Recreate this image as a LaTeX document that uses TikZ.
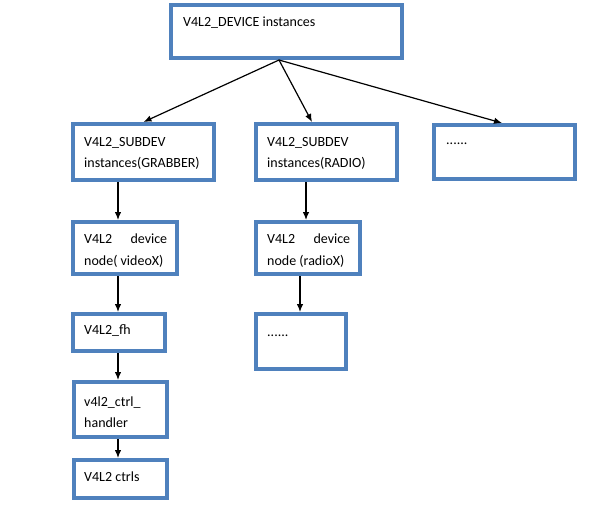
\documentclass[tikz,border=0pt]{standalone}
\usepackage{fontspec}
\setmainfont{Carlito}
\usetikzlibrary{arrows.meta,calc}
\definecolor{boxblue}{RGB}{79,129,189}
\begin{document}
\begin{tikzpicture}[x=1pt,y=-1pt,
  box/.style={draw=boxblue,line width=4pt,fill=white,rectangle,inner sep=0pt,anchor=north west},
  txt/.style={anchor=base west,inner sep=0pt,font=\fontsize{14}{21}\selectfont},
  link/.style={line width=1.2pt,-{Latex[length=8pt,width=6.5pt]}}]
\useasboundingbox (0,0) rectangle (593,509);
% boxes (outer extents)
\node[box,minimum width=231pt,minimum height=53pt] (top) at (169,3) {};
\node[box,minimum width=141pt,minimum height=56pt] (sub1) at (71,122) {};
\node[box,minimum width=141pt,minimum height=56pt] (sub2) at (254,122) {};
\node[box,minimum width=141pt,minimum height=54pt] (sub3) at (432,123) {};
\node[box,minimum width=104pt,minimum height=52pt] (dev1) at (71,220) {};
\node[box,minimum width=104pt,minimum height=52pt] (dev2) at (254,220) {};
\node[box,minimum width=92pt,minimum height=37pt] (fh) at (71,312) {};
\node[box,minimum width=90pt,minimum height=55pt] (more2) at (254,312) {};
\node[box,minimum width=93pt,minimum height=55pt] (ctrlh) at (72,380) {};
\node[box,minimum width=93pt,minimum height=38pt] (ctrls) at (72,458) {};
% texts
\node[txt] (ttop) at (183,26) {V4L2\_DEVICE instances};
\node[txt] (tsub1a) at (84,146) {V4L2\_SUBDEV};
\node[txt] (tsub1b) at (84,167) {instances(GRABBER)};
\node[txt] (tsub2a) at (267,146) {V4L2\_SUBDEV};
\node[txt] (tsub2b) at (267,167) {instances(RADIO)};
\node[txt] (tsub3) at (446,144) {......};
\node[txt] (tdev1a) at (84,243) {\hbox to 83pt{V4L2\hfil device}};
\node[txt] (tdev1b) at (84,265) {node( videoX)};
\node[txt] (tdev2a) at (267,243) {\hbox to 83pt{V4L2\hfil device}};
\node[txt] (tdev2b) at (267,265) {node (radioX)};
\node[txt] (tfh) at (84,334) {V4L2\_fh};
\node[txt] (tmore2) at (267,336) {......};
\node[txt] (tctrlha) at (84,406) {v4l2\_ctrl\_};
\node[txt] (tctrlhb) at (84,427) {handler};
\node[txt] (tctrls) at (84,481) {V4L2 ctrls};
% connectors
\coordinate (src) at ($(top.south)+(-7.5,0)$);
\draw[link] (src) -- (sub1.north);
\draw[link] (src) -- ($(sub2.north west)+(58,0)$);
\draw[link] (src) -- ($(sub3.north west)+(70,0)$);
\coordinate (colL) at (118,0);
\coordinate (colM) at (306,0);
\coordinate (colN) at (300,0);
\draw[link] (sub1.south -| colL) -- (dev1.north -| colL);
\draw[link] (dev1.south -| colL) -- (fh.north -| colL);
\draw[link] (fh.south -| colL) -- (ctrlh.north -| colL);
\draw[link] (ctrlh.south -| colL) -- (ctrls.north -| colL);
\draw[link] (sub2.south -| colM) -- (dev2.north -| colM);
\draw[link] (dev2.south -| colN) -- (more2.north -| colN);
\end{tikzpicture}
\end{document}
